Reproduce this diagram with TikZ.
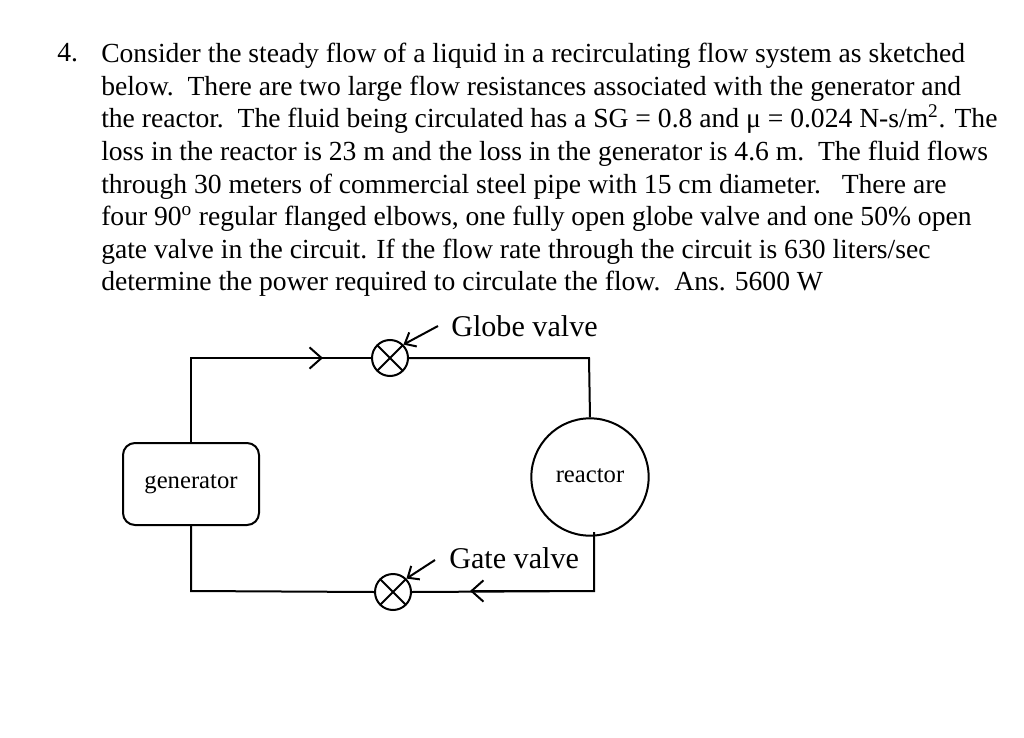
\documentclass[tikz,border=0pt]{standalone}
\usepackage{fontspec}
\setmainfont{Liberation Serif}
\usetikzlibrary{arrows.meta}
\begin{document}
\begin{tikzpicture}[x=0.75pt,y=-0.75pt,
  pipe/.style={line width=1.5pt},
  valve/.style={circle,draw,line width=1.5pt,minimum size=27pt,inner sep=0pt,path picture={\draw[line width=1.5pt] (path picture bounding box.north west)--(path picture bounding box.south east) (path picture bounding box.north east)--(path picture bounding box.south west);}},
  flow/.style={line width=1.5pt,-{Straight Barb[length=9pt,width=16pt,line width=1.5pt]}},
  point/.style={line width=1.5pt,-{Straight Barb[length=7pt,width=12pt,line width=1.5pt]}},
  body/.style={font=\fontsize{20.7}{24.45}\selectfont}]
\useasboundingbox (0,0) rectangle (1024,738);
\node[anchor=north west,align=left,inner sep=0pt,body] (txt) at (101,43) {Consider the steady flow of a liquid in a recirculating flow system as sketched\\below.\ \ There are two large flow resistances associated with the generator and\\the reactor.\ \ The fluid being circulated has a SG = 0.8 and μ = 0.024 N-s/m\textsuperscript{2}. The\\loss in the reactor is 23 m and the loss in the generator is 4.6 m.\ \ The fluid flows\\through 30 meters of commercial steel pipe with 15 cm diameter.\ \ \ There are\\four 90\textsuperscript{o} regular flanged elbows, one fully open globe valve and one 50\% open\\gate valve in the circuit. If the flow rate through the circuit is 630 liters/sec\\determine the power required to circulate the flow.\ \ Ans. 5600 W};
\node[anchor=north west,inner sep=0pt,body] (num) at (57,43) {4.};
\node[draw,line width=1.5pt,rounded corners=9pt,minimum width=102pt,minimum height=61.5pt,font=\fontsize{18.5}{20}\selectfont] (gen) at (191,484) {\raisebox{-5pt}{generator}};
\node[draw,circle,line width=1.5pt,minimum size=88pt,inner sep=0pt,font=\fontsize{18.5}{20}\selectfont] (rea) at (590,477) {\raisebox{2pt}{reactor}};
\node[valve] (gv) at (390,358) {};
\node[valve] (tv) at (393,592) {};
\coordinate (tl) at (191,358);
\coordinate (tr) at (589,358);
\coordinate (bl) at (191,591);
\coordinate (br) at (594,591);
\coordinate (a1) at (323,358);
\coordinate (a2) at (470,591);
\draw[pipe] (gen.north) -- (tl) -- (gv.west);
\draw[flow] (tl) -- (a1);
\draw[pipe] (gv.east) -- (tr) -- (rea.north);
\draw[pipe] (gen.south) -- (bl) -- (tv.west);
\draw[pipe] (tv.east) -- (br) -- (594,532);
\draw[flow] (br) -- (a2);
\node[anchor=west,inner sep=0pt,font=\fontsize{22.6}{24}\selectfont] (gl) at (451,326) {Globe valve};
\node[anchor=west,inner sep=0pt,font=\fontsize{22.6}{24}\selectfont] (tl2) at (449,558) {Gate valve};
\draw[point] (438,326) -- (gv.north east);
\draw[point] (435,560) -- (tv.north east);
\end{tikzpicture}
\end{document}
